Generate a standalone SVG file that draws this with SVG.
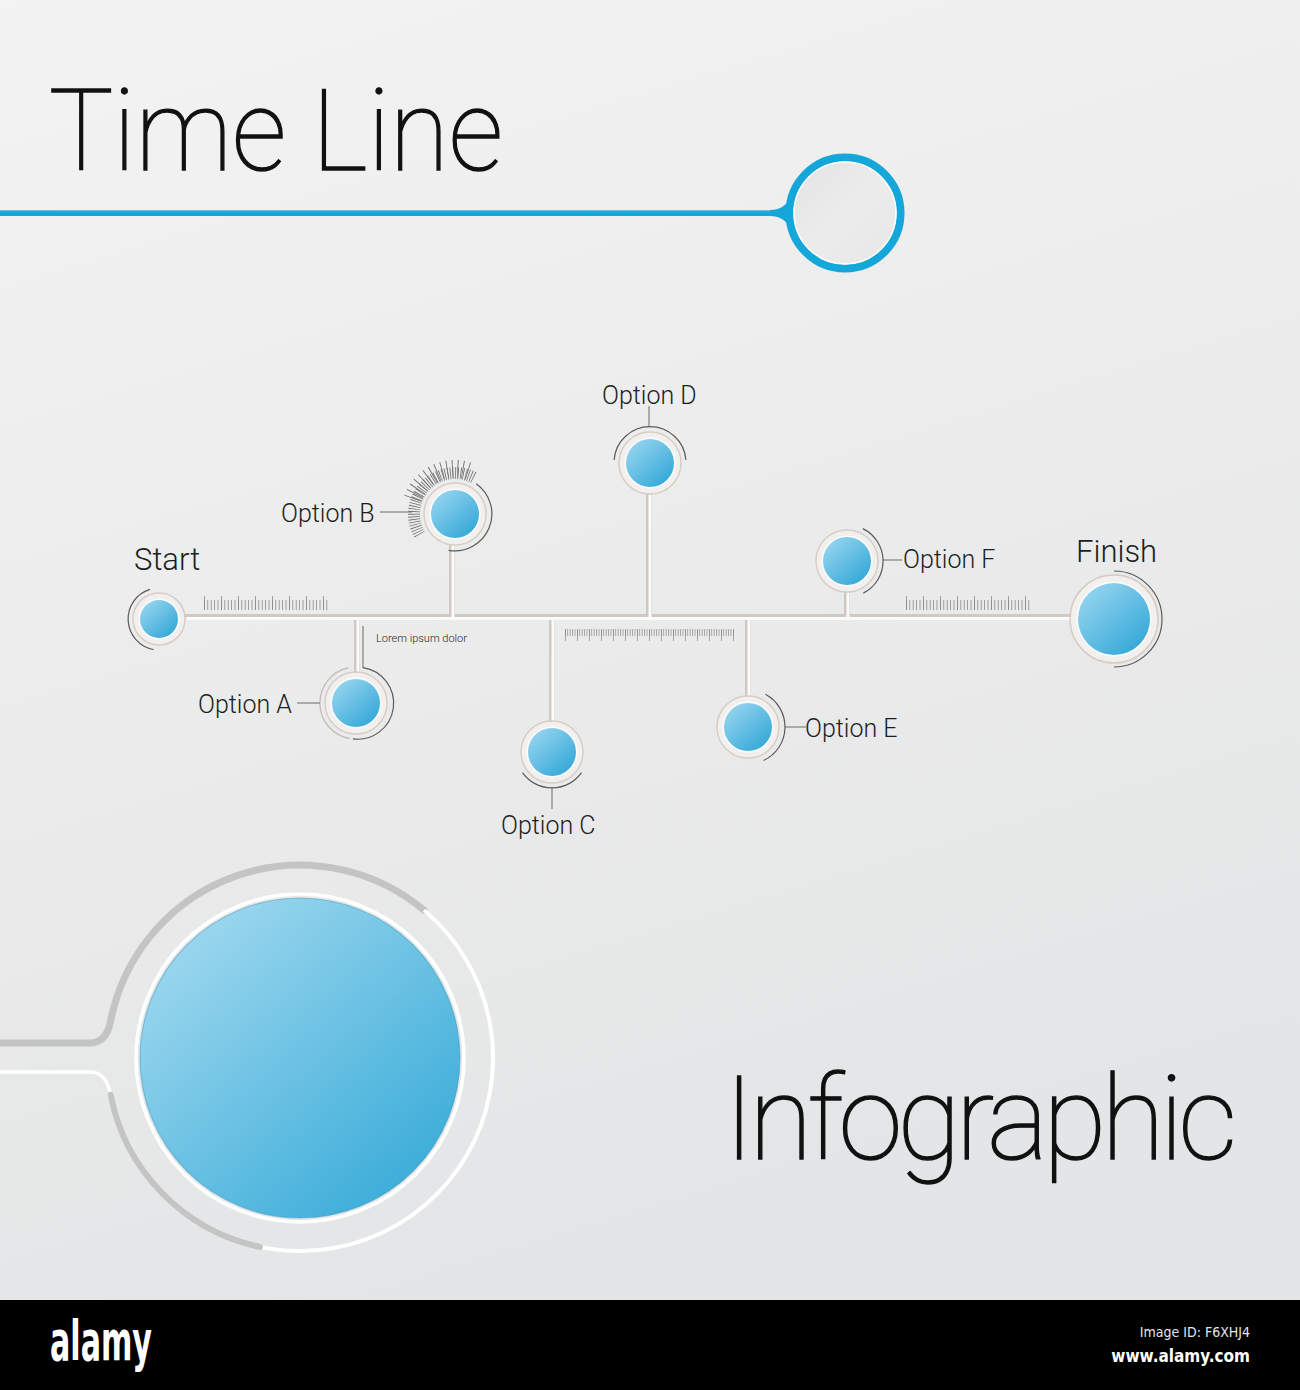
<svg xmlns="http://www.w3.org/2000/svg" width="1300" height="1390" viewBox="0 0 1300 1390">
  <defs>
    <linearGradient id="bg" x1="0" y1="0" x2="0.3" y2="1">
      <stop offset="0" stop-color="#f3f3f3"/>
      <stop offset="1" stop-color="#e4e5e6"/>
    </linearGradient>
    <linearGradient id="blue" x1="0.15" y1="0.1" x2="0.85" y2="0.9">
      <stop offset="0" stop-color="#92d3ee"/>
      <stop offset="1" stop-color="#36a9d8"/>
    </linearGradient>
    <linearGradient id="bigblue" x1="0.15" y1="0.1" x2="0.85" y2="0.9">
      <stop offset="0" stop-color="#9cd7ee"/>
      <stop offset="1" stop-color="#3cadd9"/>
    </linearGradient>
    <linearGradient id="glass" x1="0" y1="0" x2="1" y2="1">
      <stop offset="0" stop-color="#e2e2e2"/>
      <stop offset="0.5" stop-color="#ececec"/>
      <stop offset="1" stop-color="#e6e6e6"/>
    </linearGradient>
    <style>
      .lbl { font-family: Roboto, "Liberation Sans", Arial, sans-serif; font-weight: 300; fill: #1e1e1e; }
      .title { font-family: Roboto, "Liberation Sans", Arial, sans-serif; font-weight: 100; fill: #111; stroke: #111; stroke-width: 1.4; }
      .chg { fill: none; stroke: #cfc9c3; stroke-width: 6; stroke-linecap: round; }
      .chw { fill: none; stroke: #fbfbfb; stroke-width: 3; stroke-linecap: round; }
      .ring { fill: #f2f0ee; stroke: #d8cdc3; stroke-width: 1.5; }
      .edge { fill: #fdfdfd; }
      .arc { fill: none; stroke: #5a5a5a; stroke-width: 1.2; }
      .arcl { fill: none; stroke: #c6bfb8; stroke-width: 1.4; }
      .tick { fill: none; stroke: #6e6e6e; }
      .ruler { fill: none; stroke: #8a8a8a; }
    </style>
  </defs>

  <!-- background -->
  <rect x="0" y="0" width="1300" height="1300" fill="url(#bg)"/>

  <!-- title -->
  <text class="title" x="49" y="170" font-size="113" textLength="454" lengthAdjust="spacingAndGlyphs">Time Line</text>

  <!-- top blue line with circle -->
  <g id="title-bar">
    <rect x="0" y="210" width="792" height="6" fill="#16a7da"/>
    <rect x="0" y="210" width="792" height="1.2" fill="#5cc3e8"/>
    <path d="M 770 210 Q 784 210 790 198 L 790 228 Q 784 216 770 216 Z" fill="#16a7da"/>
    <circle cx="845" cy="213" r="55.5" fill="url(#glass)" stroke="#16a7da" stroke-width="8"/>
    <circle cx="845" cy="213" r="51" fill="none" stroke="#ffffff" stroke-width="1.5"/>
  </g>

  <!-- connectors -->
  <g id="connectors">
    <g class="chg">
      <path d="M 186 617 H 1072"/>
      <path d="M 452 617 V 544"/>
      <path d="M 649 617 V 494"/>
      <path d="M 847 617 V 592"/>
      <path d="M 357 617 V 672"/>
      <path d="M 552 617 V 721"/>
      <path d="M 748 617 V 696"/>
    </g>
    <g class="chw" transform="translate(1,1.5)">
      <path d="M 186 617 H 1072"/>
      <path d="M 452 617 V 544"/>
      <path d="M 649 617 V 494"/>
      <path d="M 847 617 V 592"/>
      <path d="M 357 617 V 672"/>
      <path d="M 552 617 V 721"/>
      <path d="M 748 617 V 696"/>
    </g>
    <line x1="363" y1="626" x2="363" y2="668" stroke="#6a6a6a" stroke-width="1"/>
  </g>

  <!-- rulers -->
  <g id="rulers">
    <line class="ruler" x1="204" y1="605" x2="328" y2="605" stroke-width="10" stroke-dasharray="0.8 2.6"/>
    <line class="ruler" x1="204" y1="603" x2="328" y2="603" stroke-width="14" stroke-dasharray="0.8 16.2"/>
    <line class="ruler" x1="906" y1="605" x2="1031" y2="605" stroke-width="10" stroke-dasharray="0.8 2.6"/>
    <line class="ruler" x1="906" y1="603" x2="1031" y2="603" stroke-width="14" stroke-dasharray="0.8 16.2"/>
    <line class="ruler" x1="565" y1="632.5" x2="735" y2="632.5" stroke-width="7" stroke-dasharray="0.7 1.7"/>
    <line class="ruler" x1="565" y1="635" x2="735" y2="635" stroke-width="12" stroke-dasharray="0.7 11.3"/>
  </g>

  <text class="lbl" x="376" y="642" font-size="11">Lorem ipsum dolor</text>

  <!-- Start -->
  <g id="node-start">
    <circle class="ring" cx="159" cy="619" r="26"/>
    <circle class="edge" cx="159" cy="619" r="20.5"/>
    <circle cx="159" cy="619" r="19" fill="url(#blue)"/>
    <path class="arc" d="M 149.9 589.4 A 31 31 0 0 0 153.6 649.5"/>
    <text class="lbl" x="134" y="570" font-size="31">Start</text>
  </g>

  <!-- Option A -->
  <g id="node-a">
    <circle class="ring" cx="356" cy="703" r="31"/>
    <circle class="edge" cx="356" cy="703" r="25.5"/>
    <circle cx="356" cy="703" r="24" fill="url(#blue)"/>
    <path class="arc" d="M 362.9 667.6 A 36 36 0 0 1 352.9 738.9"/>
    <path class="arcl" d="M 349.7 738.5 A 36 36 0 0 1 348.5 667.8"/>
    <line x1="297" y1="703" x2="320" y2="703" stroke="#6a6a6a" stroke-width="1"/>
    <text class="lbl" x="198" y="713" font-size="25">Option A</text>
  </g>

  <!-- Option B -->
  <g id="node-b">
    <path class="tick" d="M 419.5 534.5 A 41 41 0 0 1 474.2 477.8" stroke-width="12" stroke-dasharray="0.8 1.8"/>
    <path class="tick" d="M 412.7 498.6 A 45 45 0 0 1 470.4 471.7" stroke-width="18" stroke-dasharray="0.8 4.4"/>
    <circle class="ring" cx="455" cy="514" r="31"/>
    <circle class="edge" cx="455" cy="514" r="25.5"/>
    <circle cx="455" cy="514" r="24" fill="url(#blue)"/>
    <path class="arc" d="M 476.2 483.7 A 37 37 0 0 1 448.6 550.4"/>
    <line x1="380" y1="512" x2="412" y2="512" stroke="#6a6a6a" stroke-width="1"/>
    <text class="lbl" x="281" y="522" font-size="25">Option B</text>
  </g>

  <!-- Option C -->
  <g id="node-c">
    <circle class="ring" cx="552" cy="752" r="31"/>
    <circle class="edge" cx="552" cy="752" r="25.5"/>
    <circle cx="552" cy="752" r="24" fill="url(#blue)"/>
    <path class="arc" d="M 581.5 772.6 A 36 36 0 0 1 522.5 772.6"/>
    <line x1="552" y1="788" x2="552" y2="809" stroke="#6a6a6a" stroke-width="1"/>
    <text class="lbl" x="501" y="834" font-size="25">Option C</text>
  </g>

  <!-- Option D -->
  <g id="node-d">
    <circle class="ring" cx="650" cy="463" r="31"/>
    <circle class="edge" cx="650" cy="463" r="25.5"/>
    <circle cx="650" cy="463" r="24" fill="url(#blue)"/>
    <path class="arc" d="M 614.1 459.9 A 36 36 0 0 1 685.9 459.9"/>
    <line x1="649" y1="406" x2="649" y2="427" stroke="#6a6a6a" stroke-width="1"/>
    <text class="lbl" x="602" y="404" font-size="25">Option D</text>
  </g>

  <!-- Option E -->
  <g id="node-e">
    <circle class="ring" cx="748" cy="727" r="31"/>
    <circle class="edge" cx="748" cy="727" r="25.5"/>
    <circle cx="748" cy="727" r="24" fill="url(#blue)"/>
    <path class="arc" d="M 765.4 694.3 A 37 37 0 0 1 763.6 760.5"/>
    <line x1="785" y1="727" x2="806" y2="727" stroke="#6a6a6a" stroke-width="1"/>
    <text class="lbl" x="805" y="737" font-size="25">Option E</text>
  </g>

  <!-- Option F -->
  <g id="node-f">
    <circle class="ring" cx="847" cy="561" r="31"/>
    <circle class="edge" cx="847" cy="561" r="25.5"/>
    <circle cx="847" cy="561" r="24" fill="url(#blue)"/>
    <path class="arc" d="M 862.8 528.6 A 36 36 0 0 1 863.3 593.1"/>
    <line x1="883" y1="560" x2="902" y2="560" stroke="#6a6a6a" stroke-width="1"/>
    <text class="lbl" x="903" y="568" font-size="25">Option F</text>
  </g>

  <!-- Finish -->
  <g id="node-finish">
    <circle class="ring" cx="1114" cy="619" r="44"/>
    <circle class="edge" cx="1114" cy="619" r="37.5"/>
    <circle cx="1114" cy="619" r="36" fill="url(#blue)"/>
    <path class="arc" d="M 1114 571 A 48 48 0 0 1 1114 667"/>
    <text class="lbl" x="1076" y="562" font-size="31">Finish</text>
  </g>

  <!-- big bottom circle -->
  <g id="big-circle">
    <path d="M 0 1043 H 90 Q 106.4 1043 110.6 1021.2 A 193 193 0 0 1 424.1 910.2" fill="none" stroke="#c4c4c4" stroke-width="7" stroke-linecap="round"/>
    <path d="M 424.1 910.2 A 193 193 0 0 1 234 1239.4" fill="none" stroke="#ffffff" stroke-width="4"/>
    <path d="M 0 1072 H 90 Q 106.2 1072 110.6 1094.8" fill="none" stroke="#ffffff" stroke-width="3.5"/>
    <path d="M 110.6 1094.8 A 193 193 0 0 0 260 1247" fill="none" stroke="#c4c4c4" stroke-width="6" stroke-linecap="round"/>
    <circle cx="300" cy="1058" r="164" fill="none" stroke="#ffffff" stroke-width="3.5"/>
    <circle cx="300" cy="1058" r="160" fill="url(#bigblue)"/>
    <circle cx="300" cy="1058" r="160" fill="none" stroke="#2f93bd" stroke-width="1.2" stroke-opacity="0.45"/>
  </g>

  <text class="title" x="724" y="1159" font-size="116" textLength="513" lengthAdjust="spacing">Infographic</text>

  <!-- bottom bar -->
  <g id="footer">
    <rect x="0" y="1300" width="1300" height="90" fill="#000"/>
    <text x="50" y="1360" font-family="'Liberation Sans Narrow', 'DejaVu Sans Condensed', 'Liberation Sans', sans-serif" font-weight="bold" font-size="55" fill="#fff" textLength="102" lengthAdjust="spacingAndGlyphs">alamy</text>
    <text x="1250" y="1337" text-anchor="end" font-family="'Liberation Sans Narrow', 'DejaVu Sans Condensed', 'Liberation Sans', sans-serif" font-size="14" fill="#e6e6e6">Image ID: F6XHJ4</text>
    <text x="1250" y="1362" text-anchor="end" font-family="'Liberation Sans Narrow', 'DejaVu Sans Condensed', 'Liberation Sans', sans-serif" font-weight="bold" font-size="17" fill="#fff">www.alamy.com</text>
  </g>
</svg>
